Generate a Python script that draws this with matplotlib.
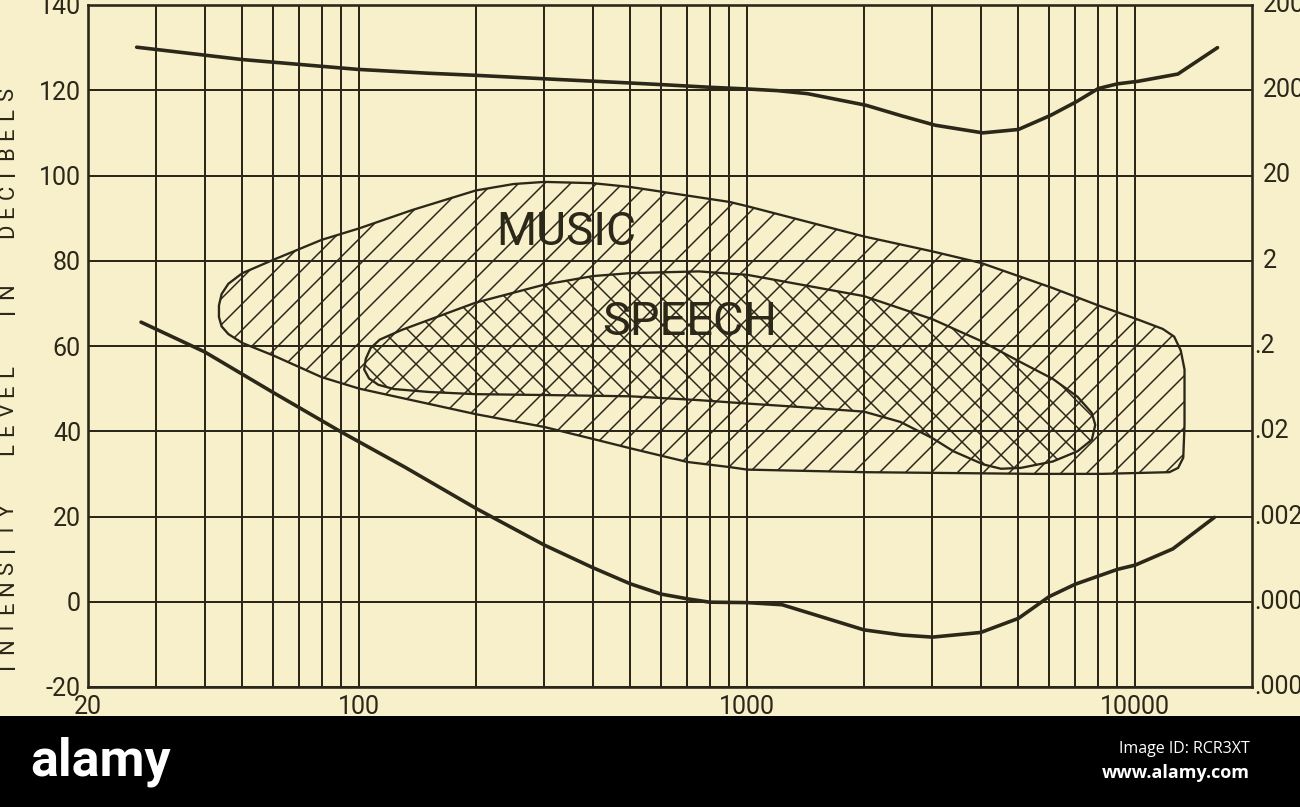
import matplotlib.pyplot as plt
from matplotlib.patches import Rectangle

DPI = 78  # hatch cell is one inch, so this dpi gives the ~13 px hatch spacing


def px(v):
    # size in output pixels -> points
    return v * 72.0 / DPI


paper = '#f8f0ca'
ink = '#2b2719'

# threshold of feeling (upper curve)
feel_hz = [26.7, 50, 99, 150, 200, 330, 500, 608, 800, 1000, 1200, 1430, 2020,
           2500, 3050, 4050, 5000, 6050, 7050, 8030, 9000, 10170, 12880, 16300]
feel_db = [130.1, 127.2, 124.9, 124.0, 123.5, 122.5, 121.7, 121.3, 120.7, 120.3,
           119.9, 119.2, 116.5, 114.0, 111.8, 110.0, 110.8, 114.1, 117.3, 120.4,
           121.5, 122.1, 123.8, 130.0]

# threshold of hearing (lower curve)
hear_hz = [27.4, 40, 60, 90, 131, 200, 300, 400, 500, 600, 700, 800, 1000,
           1230, 1500, 2000, 2500, 3000, 4000, 5000, 6000, 7000, 9000, 10000,
           12500, 16000]
hear_db = [65.6, 58.6, 49.1, 39.8, 31.6, 21.9, 13.3, 8.0, 4.2, 1.8, 0.7, -0.1,
           -0.2, -0.7, -3.1, -6.6, -7.8, -8.3, -7.2, -3.9, 1.2, 4.1, 7.6, 8.6,
           12.4, 19.8]

# music area outline
music_hz = [43.5, 44.2, 46, 50, 60, 80, 100, 137, 200, 250, 300, 400, 500, 700,
            900, 1000, 2000, 3000, 4000, 6130, 8100, 10100, 11780, 12600, 13100,
            13400, 13400, 13300, 12900, 12250, 8230, 5520, 2000, 1000, 900, 700,
            500, 400, 300, 200, 100, 80, 60, 50, 46, 44.2, 43.5]
music_db = [69.5, 72.2, 74.6, 77.1, 80.2, 84.9, 87.6, 91.9, 96.5, 98.0, 98.5, 98.2,
            97.3, 95.3, 93.8, 92.8, 85.7, 82.2, 79.5, 73.6, 69.4, 66.3, 64.0, 62.2,
            59.0, 54.5, 41.5, 33.8, 31.4, 30.4, 30.0, 30.0, 30.4, 31.0, 31.6, 32.8,
            36.0, 38.2, 41.0, 44.0, 50.0, 52.7, 57.8, 60.7, 62.8, 64.6, 66.8]

# speech area outline
speech_hz = [103, 104, 107, 113, 129, 200, 300, 400, 500, 750, 1000, 2000, 3000,
             4000, 5070, 6130, 7100, 7730, 7890, 7730, 7100, 6130, 5070, 4510, 4070,
             3400, 3000, 2480, 2000, 1360, 1000, 750, 500, 300, 200, 152, 123, 112,
             106]
speech_db = [54.5, 57.0, 59.5, 61.5, 63.8, 70.2, 74.4, 76.4, 77.1, 77.5, 76.7, 71.7,
             66.3, 61.2, 56.2, 52.3, 48.1, 44.3, 41.5, 38.0, 35.3, 32.9, 31.4, 31.2,
             32.2, 35.3, 38.4, 42.2, 44.6, 45.7, 46.5, 47.3, 48.2, 48.5, 48.7, 49.2,
             49.9, 50.9, 52.4]

x_ticks = [20, 100, 1000, 10000]
x_labels = ['20', '100', '1000', '10000']
x_minor = [30, 40, 50, 60, 70, 80, 90, 200, 300, 400, 500, 600, 700, 800, 900,
           2000, 3000, 4000, 5000, 6000, 7000, 8000, 9000]
db_ticks = [140, 120, 100, 80, 60, 40, 20, 0, -20]
db_labels = ['140', '120', '100', '80', '60', '40', '20', '0', '-20']
power_labels = ['2000', '200', '20', '2', '.2', '.02', '.002', '.0002', '.00002']

plt.rcParams['font.family'] = ['Roboto', 'DejaVu Sans']
plt.rcParams['axes.unicode_minus'] = False
plt.rcParams['hatch.linewidth'] = px(1.5)

fig = plt.figure(figsize=(1300 / DPI, 807 / DPI), dpi=DPI, facecolor=paper)
ax = fig.add_axes([88 / 1300, 120 / 807, 1164 / 1300, 682 / 807])
ax.set_facecolor(paper)
ax.set_xscale('log')
ax.set_xlim(20, 20000)
ax.set_ylim(-20, 140)

ax.set_xticks(x_ticks)
ax.set_xticklabels(x_labels)
ax.set_xticks(x_minor, minor=True)
ax.xaxis.set_minor_formatter(plt.NullFormatter())
ax.set_yticks(db_ticks)
ax.set_yticklabels(db_labels)
ax.tick_params(which='both', length=0, colors=ink, labelsize=px(25))
ax.tick_params(axis='x', pad=px(8))
ax.tick_params(axis='y', pad=px(7))
ax.grid(which='both', color=ink, linewidth=px(2))
ax.set_axisbelow(True)
for s in ax.spines.values():
    s.set_color(ink)
    s.set_linewidth(px(2.6))

# right-hand scale (cut by the picture edge, as in the source)
for y, lab in zip(db_ticks, power_labels):
    xpos = 1.0017 if lab.startswith('.') else 1.0095
    ax.text(xpos, y, lab, transform=ax.get_yaxis_transform(), ha='left',
            va='center', fontsize=px(25), color=ink, clip_on=False)

# shaded areas
ax.fill(music_hz, music_db, facecolor='none', edgecolor=ink, hatch='/',
        linewidth=px(2.3), zorder=3)
ax.fill(speech_hz, speech_db, facecolor='none', edgecolor=ink, hatch='\\',
        linewidth=px(2.3), zorder=4)

ax.plot(feel_hz, feel_db, color=ink, linewidth=px(3.6), solid_capstyle='round',
        solid_joinstyle='round', zorder=5)
ax.plot(hear_hz, hear_db, color=ink, linewidth=px(3.6), solid_capstyle='round',
        solid_joinstyle='round', zorder=5)

ax.text(342, 86.7, 'MUSIC', ha='center', va='center', fontsize=px(46),
        color=ink, zorder=6)
ax.text(712, 65.6, 'SPEECH', ha='center', va='center', fontsize=px(47),
        color=ink, zorder=6)

# spaced-out vertical axis title, bottom to top
title_words = ['INTENSITY', 'LEVEL', 'IN', 'DECIBELS']
ypix = 666
for w in title_words:
    for ch in w:
        fig.text(8 / 1300, 1 - ypix / 807, ch, rotation=90, ha='center',
                 va='center', fontsize=px(22), color=ink)
        ypix -= 19.5
    ypix -= 41

# bottom band of the source image
fig.add_artist(Rectangle((0, 0), 1, 91 / 807, transform=fig.transFigure,
                         facecolor='black', edgecolor='none'))
fig.text(101 / 1300, 1 - 762 / 807, 'alamy', ha='center', va='center',
         fontsize=px(52), fontweight='bold', color='white')
fig.text(1250 / 1300, 1 - 749 / 807, 'Image ID: RCR3XT', ha='right', va='center',
         fontsize=px(16), color='white', family=['Open Sans', 'DejaVu Sans'])
fig.text(1250 / 1300, 1 - 773 / 807, 'www.alamy.com', ha='right', va='center',
         fontsize=px(18), fontweight='bold', color='white',
         family=['Open Sans', 'DejaVu Sans'])

fig.savefig('out.png', dpi=DPI, facecolor=paper)
